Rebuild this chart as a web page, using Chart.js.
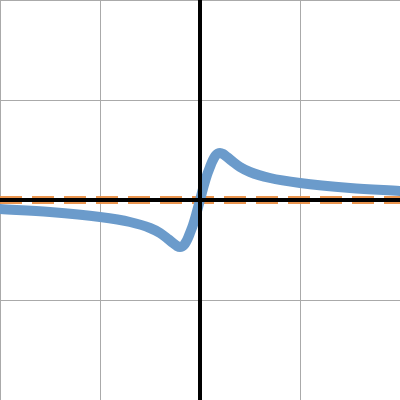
<!DOCTYPE html>
<html><head><script src="https://cdn.jsdelivr.net/npm/chart.js"></script>
<style>html,body{margin:0;padding:0;background:#fff}#w{width:400px;height:400px}</style></head>
<body><div id="w"><canvas id="c"></canvas></div>
<script>
const curveX = [-2,-1.5,-1,-0.7,-0.5,-0.4,-0.32,-0.27,-0.23,-0.2,-0.18,-0.16,-0.14,-0.12,-0.1,-0.07,-0.04,0,0.04,0.07,0.1,0.12,0.14,0.16,0.18,0.2,0.23,0.27,0.32,0.4,0.5,0.7,1,1.5,2];
const curveY = [-0.09,-0.12,-0.17,-0.22,-0.28,-0.33,-0.39,-0.43,-0.46,-0.47,-0.465,-0.45,-0.42,-0.38,-0.33,-0.25,-0.15,0,0.15,0.25,0.33,0.38,0.42,0.45,0.465,0.47,0.46,0.43,0.39,0.33,0.28,0.22,0.17,0.12,0.09];
const asymX = [-2,2];
const asymY = [0,0];
const axisX = [0,0];
const axisY = [-2,2];
const pts=(xs,ys)=>xs.map((x,i)=>({x,y:ys[i]}));
new Chart(document.getElementById('c'),{
type:'scatter',
data:{datasets:[
{data:pts(axisY,asymY),showLine:true,borderColor:'#000',borderWidth:4,pointRadius:0},
{data:pts(axisX,axisY),showLine:true,borderColor:'#000',borderWidth:4,pointRadius:0},
{data:pts(curveX,curveY),showLine:true,borderColor:'#6b9bcb',borderWidth:10,pointRadius:0,cubicInterpolationMode:'monotone',borderCapStyle:'round',borderJoinStyle:'round'},
{data:pts(asymX,asymY),showLine:true,borderColor:'rgba(232,137,60,0.9)',borderWidth:8,borderDash:[22,10],pointRadius:0}
]},
options:{animation:false,responsive:true,maintainAspectRatio:false,
layout:{padding:0},
plugins:{legend:{display:false},tooltip:{enabled:false}},
scales:{
x:{type:'linear',min:-2,max:2,ticks:{display:false,stepSize:1},border:{display:false},grid:{color:'#aaa',lineWidth:1,drawTicks:false}},
y:{type:'linear',min:-2,max:2,ticks:{display:false,stepSize:1},border:{display:false},grid:{color:'#aaa',lineWidth:1,drawTicks:false}}
}}});
</script></body></html>
